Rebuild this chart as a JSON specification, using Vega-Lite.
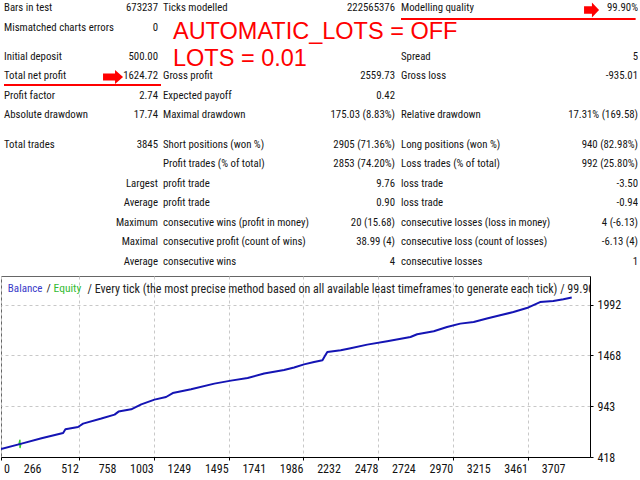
{
  "$schema": "https://vega.github.io/schema/vega-lite/v6.json",
  "padding": {"top": 2, "left": 0, "right": 0, "bottom": 0},
  "background": "white",
  "config": {"view": {"stroke": "#666666", "strokeWidth": 1}},
  "width": 589,
  "height": 181,
  "datasets": {
    "table": [
      {"line": 0, "slot": 1, "kind": "label", "text": "Bars in test"},
      {"line": 0, "slot": 2, "kind": "value", "text": "673237"},
      {"line": 0, "slot": 3, "kind": "label", "text": "Ticks modelled"},
      {"line": 0, "slot": 4, "kind": "value", "text": "222565376"},
      {"line": 0, "slot": 5, "kind": "label", "text": "Modelling quality"},
      {"line": 0, "slot": 6, "kind": "value", "text": "99.90%"},
      {"line": 1, "slot": 1, "kind": "label", "text": "Mismatched charts errors"},
      {"line": 1, "slot": 2, "kind": "value", "text": "0"},
      {"line": 2.5, "slot": 1, "kind": "label", "text": "Initial deposit"},
      {"line": 2.5, "slot": 2, "kind": "value", "text": "500.00"},
      {"line": 2.5, "slot": 5, "kind": "label", "text": "Spread"},
      {"line": 2.5, "slot": 6, "kind": "value", "text": "5"},
      {"line": 3.5, "slot": 1, "kind": "label", "text": "Total net profit"},
      {"line": 3.5, "slot": 2, "kind": "value", "text": "1624.72"},
      {"line": 3.5, "slot": 3, "kind": "label", "text": "Gross profit"},
      {"line": 3.5, "slot": 4, "kind": "value", "text": "2559.73"},
      {"line": 3.5, "slot": 5, "kind": "label", "text": "Gross loss"},
      {"line": 3.5, "slot": 6, "kind": "value", "text": "-935.01"},
      {"line": 4.5, "slot": 1, "kind": "label", "text": "Profit factor"},
      {"line": 4.5, "slot": 2, "kind": "value", "text": "2.74"},
      {"line": 4.5, "slot": 3, "kind": "label", "text": "Expected payoff"},
      {"line": 4.5, "slot": 4, "kind": "value", "text": "0.42"},
      {"line": 5.5, "slot": 1, "kind": "label", "text": "Absolute drawdown"},
      {"line": 5.5, "slot": 2, "kind": "value", "text": "17.74"},
      {"line": 5.5, "slot": 3, "kind": "label", "text": "Maximal drawdown"},
      {"line": 5.5, "slot": 4, "kind": "value", "text": "175.03 (8.83%)"},
      {"line": 5.5, "slot": 5, "kind": "label", "text": "Relative drawdown"},
      {"line": 5.5, "slot": 6, "kind": "value", "text": "17.31% (169.58)"},
      {"line": 7, "slot": 1, "kind": "label", "text": "Total trades"},
      {"line": 7, "slot": 2, "kind": "value", "text": "3845"},
      {"line": 7, "slot": 3, "kind": "label", "text": "Short positions (won %)"},
      {"line": 7, "slot": 4, "kind": "value", "text": "2905 (71.36%)"},
      {"line": 7, "slot": 5, "kind": "label", "text": "Long positions (won %)"},
      {"line": 7, "slot": 6, "kind": "value", "text": "940 (82.98%)"},
      {"line": 8, "slot": 3, "kind": "label", "text": "Profit trades (% of total)"},
      {"line": 8, "slot": 4, "kind": "value", "text": "2853 (74.20%)"},
      {"line": 8, "slot": 5, "kind": "label", "text": "Loss trades (% of total)"},
      {"line": 8, "slot": 6, "kind": "value", "text": "992 (25.80%)"},
      {"line": 9, "slot": 2, "kind": "value", "text": "Largest"},
      {"line": 9, "slot": 3, "kind": "label", "text": "profit trade"},
      {"line": 9, "slot": 4, "kind": "value", "text": "9.76"},
      {"line": 9, "slot": 5, "kind": "label", "text": "loss trade"},
      {"line": 9, "slot": 6, "kind": "value", "text": "-3.50"},
      {"line": 10, "slot": 2, "kind": "value", "text": "Average"},
      {"line": 10, "slot": 3, "kind": "label", "text": "profit trade"},
      {"line": 10, "slot": 4, "kind": "value", "text": "0.90"},
      {"line": 10, "slot": 5, "kind": "label", "text": "loss trade"},
      {"line": 10, "slot": 6, "kind": "value", "text": "-0.94"},
      {"line": 11, "slot": 2, "kind": "value", "text": "Maximum"},
      {"line": 11, "slot": 3, "kind": "label", "text": "consecutive wins (profit in money)"},
      {"line": 11, "slot": 4, "kind": "value", "text": "20 (15.68)"},
      {"line": 11, "slot": 5, "kind": "label", "text": "consecutive losses (loss in money)"},
      {"line": 11, "slot": 6, "kind": "value", "text": "4 (-6.13)"},
      {"line": 12, "slot": 2, "kind": "value", "text": "Maximal"},
      {"line": 12, "slot": 3, "kind": "label", "text": "consecutive profit (count of wins)"},
      {"line": 12, "slot": 4, "kind": "value", "text": "38.99 (4)"},
      {"line": 12, "slot": 5, "kind": "label", "text": "consecutive loss (count of losses)"},
      {"line": 12, "slot": 6, "kind": "value", "text": "-6.13 (4)"},
      {"line": 13, "slot": 2, "kind": "value", "text": "Average"},
      {"line": 13, "slot": 3, "kind": "label", "text": "consecutive wins"},
      {"line": 13, "slot": 4, "kind": "value", "text": "4"},
      {"line": 13, "slot": 5, "kind": "label", "text": "consecutive losses"},
      {"line": 13, "slot": 6, "kind": "value", "text": "1"}
    ],
    "balance": [
      {"trade": 0, "balance": 500},
      {"trade": 135, "balance": 556},
      {"trade": 266, "balance": 611},
      {"trade": 408, "balance": 666},
      {"trade": 423, "balance": 704},
      {"trade": 506, "balance": 728},
      {"trade": 539, "balance": 763},
      {"trade": 659, "balance": 815},
      {"trade": 746, "balance": 856},
      {"trade": 772, "balance": 887},
      {"trade": 855, "balance": 911},
      {"trade": 921, "balance": 962},
      {"trade": 1008, "balance": 1011},
      {"trade": 1084, "balance": 1038},
      {"trade": 1128, "balance": 1079},
      {"trade": 1248, "balance": 1117},
      {"trade": 1401, "balance": 1176},
      {"trade": 1510, "balance": 1207},
      {"trade": 1620, "balance": 1234},
      {"trade": 1728, "balance": 1280},
      {"trade": 1859, "balance": 1317},
      {"trade": 1925, "balance": 1342},
      {"trade": 1990, "balance": 1375},
      {"trade": 2056, "balance": 1399},
      {"trade": 2111, "balance": 1417},
      {"trade": 2126, "balance": 1458},
      {"trade": 2143, "balance": 1503},
      {"trade": 2231, "balance": 1520},
      {"trade": 2296, "balance": 1541},
      {"trade": 2405, "balance": 1579},
      {"trade": 2536, "balance": 1613},
      {"trade": 2689, "balance": 1658},
      {"trade": 2733, "balance": 1686},
      {"trade": 2842, "balance": 1717},
      {"trade": 2929, "balance": 1761},
      {"trade": 3016, "balance": 1796},
      {"trade": 3104, "balance": 1813},
      {"trade": 3191, "balance": 1848},
      {"trade": 3278, "balance": 1882},
      {"trade": 3365, "balance": 1916},
      {"trade": 3453, "balance": 1957},
      {"trade": 3540, "balance": 2019},
      {"trade": 3627, "balance": 2030},
      {"trade": 3693, "balance": 2047},
      {"trade": 3748, "balance": 2065}
    ],
    "equity": [
      {"trade": 118, "equity": 548},
      {"trade": 124, "equity": 591},
      {"trade": 125, "equity": 516},
      {"trade": 130, "equity": 553}
    ],
    "xticks": [
      {"tick": 0}, {"tick": 266}, {"tick": 512}, {"tick": 758}, {"tick": 1003}, {"tick": 1249},
      {"tick": 1495}, {"tick": 1741}, {"tick": 1986}, {"tick": 2232}, {"tick": 2478}, {"tick": 2724},
      {"tick": 2970}, {"tick": 3215}, {"tick": 3461}, {"tick": 3707}
    ]
  },
  "resolve": {"scale": {"x": "independent", "y": "independent"}, "axis": {"x": "independent", "y": "independent"}},
  "layer": [
    {
      "layer": [
        {
          "data": {"name": "equity"},
          "mark": {"type": "line", "color": "#33cc33", "strokeWidth": 1.5, "strokeJoin": "round", "clip": true},
          "encoding": {
            "x": {"field": "trade", "type": "quantitative", "scale": {"domain": [0, 3868], "zero": false, "nice": false},
              "axis": {
                "title": null,
                "values": [0, 266, 512, 758, 1003, 1249, 1495, 1741, 1986, 2232, 2478, 2724, 2970, 3215, 3461, 3707],
                "labels": false,
                "grid": true, "gridDash": [3, 3], "gridColor": "#c8c8c8", "gridWidth": 1,
                "tickSize": 3, "tickColor": "#000000", "domainColor": "#000000"
              }
            },
            "y": {"field": "equity", "type": "quantitative", "scale": {"domain": [418, 2288], "zero": false, "nice": false},
              "axis": {
                "title": null, "orient": "right",
                "values": [418, 943, 1468, 1992],
                "format": "d",
                "grid": true, "gridDash": [3, 3], "gridColor": "#c8c8c8", "gridWidth": 1,
                "tickSize": 3, "tickColor": "#000000", "domainColor": "#000000",
                "labelFont": "'Roboto Condensed', 'DejaVu Sans Condensed', 'Liberation Sans', sans-serif",
                "labelFontSize": 12, "labelColor": "#111111", "labelPadding": 4, "labelBaseline": "middle"
              }
            }
          }
        },
        {
          "data": {"name": "balance"},
          "mark": {"type": "line", "color": "#1414b4", "strokeWidth": 2, "strokeJoin": "round", "clip": true},
          "encoding": {
            "x": {"field": "trade", "type": "quantitative"},
            "y": {"field": "balance", "type": "quantitative"}
          }
        },
        {
          "data": {"name": "xticks"},
          "transform": [{"filter": "datum.tick > 0"}],
          "mark": {"type": "text", "align": "right", "baseline": "top", "dy": 7, "clip": false, "font": "'Roboto Condensed', 'DejaVu Sans Condensed', 'Liberation Sans', sans-serif", "fontSize": 12, "color": "#111111"},
          "encoding": {"x": {"field": "tick", "type": "quantitative"}, "y": {"datum": 418}, "text": {"field": "tick", "type": "quantitative", "format": "d"}}
        },
        {
          "data": {"name": "xticks"},
          "transform": [{"filter": "datum.tick === 0"}],
          "mark": {"type": "text", "align": "left", "baseline": "top", "dx": 3, "dy": 7, "clip": false, "font": "'Roboto Condensed', 'DejaVu Sans Condensed', 'Liberation Sans', sans-serif", "fontSize": 12, "color": "#111111"},
          "encoding": {"x": {"field": "tick", "type": "quantitative"}, "y": {"datum": 418}, "text": {"field": "tick", "type": "quantitative", "format": "d"}}
        },
        {
          "data": {"values": [{}]},
          "mark": {"type": "text", "align": "left", "baseline": "middle", "clip": true, "font": "'Roboto Condensed', 'DejaVu Sans Condensed', 'Liberation Sans', sans-serif", "fontSize": 11, "color": "#3a3ac8", "text": "Balance"},
          "encoding": {"x": {"datum": 45}, "y": {"datum": 2150}}
        },
        {
          "data": {"values": [{}]},
          "mark": {"type": "text", "align": "left", "baseline": "middle", "clip": true, "font": "'Roboto Condensed', 'DejaVu Sans Condensed', 'Liberation Sans', sans-serif", "fontSize": 11.5, "color": "#222222", "text": "/"},
          "encoding": {"x": {"datum": 298.6}, "y": {"datum": 2150}}
        },
        {
          "data": {"values": [{}]},
          "mark": {"type": "text", "align": "left", "baseline": "middle", "clip": true, "font": "'Roboto Condensed', 'DejaVu Sans Condensed', 'Liberation Sans', sans-serif", "fontSize": 11.5, "color": "#33bb33", "text": "Equity"},
          "encoding": {"x": {"datum": 345}, "y": {"datum": 2150}}
        },
        {
          "data": {"values": [{}]},
          "mark": {"type": "text", "align": "left", "baseline": "middle", "clip": true, "font": "'Roboto Condensed', 'DejaVu Sans Condensed', 'Liberation Sans', sans-serif", "fontSize": 12, "color": "#222222", "text": "/ Every tick (the most precise method based on all available least timeframes to generate each tick) / 99.90%"},
          "encoding": {"x": {"datum": 568}, "y": {"datum": 2150}}
        }
      ]
    },
    {
      "data": {"name": "table"},
      "layer": [
        {
          "transform": [{"filter": "datum.kind === 'label'"}],
          "mark": {"type": "text", "align": "left", "baseline": "middle", "font": "'Roboto Condensed', 'DejaVu Sans Condensed', 'Liberation Sans', sans-serif", "fontSize": 10.8, "color": "#141414"},
          "encoding": {
            "x": {"field": "slot", "type": "quantitative", "scale": {"domain": [1, 2, 3, 4, 5, 6], "range": [3, 157, 162, 394, 400, 637], "zero": false, "nice": false}, "axis": null},
            "y": {"field": "line", "type": "quantitative", "scale": {"domain": [0, 13], "range": [-268, -14.5], "zero": false, "nice": false}, "axis": null},
            "text": {"field": "text"}
          }
        },
        {
          "transform": [{"filter": "datum.kind === 'value'"}],
          "mark": {"type": "text", "align": "right", "baseline": "middle", "font": "'Roboto Condensed', 'DejaVu Sans Condensed', 'Liberation Sans', sans-serif", "fontSize": 10.8, "color": "#141414"},
          "encoding": {
            "x": {"field": "slot", "type": "quantitative"},
            "y": {"field": "line", "type": "quantitative"},
            "text": {"field": "text"}
          }
        },
        {
          "data": {"values": [{}]},
          "mark": {"type": "rule", "color": "#ff0000", "strokeWidth": 2},
          "encoding": {"x": {"datum": 1.0}, "x2": {"datum": 2.6}, "y": {"datum": 3.95}}
        },
        {
          "data": {"values": [{}]},
          "mark": {"type": "rule", "color": "#ff0000", "strokeWidth": 2},
          "encoding": {"x": {"datum": 5}, "x2": {"datum": 5.99}, "y": {"datum": 0.56}}
        },
        {
          "data": {"values": [{}]},
          "mark": {"type": "point", "filled": true, "color": "#ff0000", "opacity": 1, "size": 400, "shape": "M -1 -0.35 L 0.2 -0.35 L 0.2 -0.7 L 1 0 L 0.2 0.7 L 0.2 0.35 L -1 0.35 Z"},
          "encoding": {"x": {"datum": 1.708}, "y": {"datum": 3.54}}
        },
        {
          "data": {"values": [{}]},
          "mark": {"type": "point", "filled": true, "color": "#ff0000", "opacity": 1, "size": 225, "shape": "M -1 -0.5 L 0.05 -0.5 L 0.05 -1 L 1 0 L 0.05 1 L 0.05 0.5 L -1 0.5 Z"},
          "encoding": {"x": {"datum": 5.804}, "y": {"datum": 0.1}}
        },
        {
          "data": {"values": [{}]},
          "mark": {"type": "text", "align": "left", "baseline": "alphabetic", "font": "'Liberation Sans', Arial, sans-serif", "fontSize": 23.5, "color": "#ff0000", "text": "AUTOMATIC_LOTS = OFF"},
          "encoding": {"x": {"datum": 3.043}, "y": {"datum": 1.59}}
        },
        {
          "data": {"values": [{}]},
          "mark": {"type": "text", "align": "left", "baseline": "alphabetic", "font": "'Liberation Sans', Arial, sans-serif", "fontSize": 23.5, "color": "#ff0000", "text": "LOTS = 0.01"},
          "encoding": {"x": {"datum": 3.043}, "y": {"datum": 2.95}}
        }
      ]
    }
  ]
}
